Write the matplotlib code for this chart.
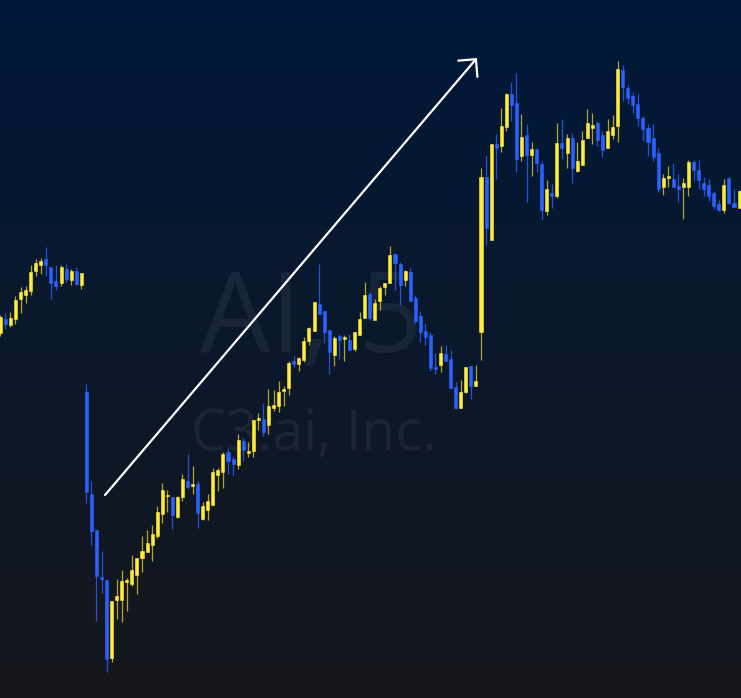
import numpy as np
import matplotlib
matplotlib.use("Agg")
import matplotlib.pyplot as plt
from matplotlib.patches import FancyArrowPatch

# AI (C3.ai), 5 minute candles
opens = [23.34, 23.62, 23.50, 23.62, 24.02, 24.10, 24.18, 24.58, 24.70, 24.82,
         24.66, 24.38, 24.34, 24.62, 24.40, 24.58, 24.30, 22.16, 20.12, 19.40,
         18.46, 18.40, 16.84, 18.00, 18.00, 18.36, 18.32, 18.50, 18.84, 18.96,
         19.10, 19.28, 19.72, 20.08, 20.06, 19.66, 20.06, 20.38, 20.28, 20.32,
         19.62, 19.80, 19.90, 20.50, 20.56, 20.96, 20.82, 20.70, 21.18, 20.94,
         20.98, 21.60, 21.62, 21.50, 21.84, 21.88, 22.18, 22.24, 22.78, 22.72,
         22.80, 23.18, 23.38, 23.92, 23.78, 23.40, 22.90, 23.28, 23.22, 23.20,
         23.02, 23.30, 23.64, 24.12, 23.60, 23.98, 24.26, 24.34, 24.92, 24.72,
         24.40, 24.56, 24.04, 23.68, 23.38, 23.30, 22.66, 22.70, 22.92, 22.82,
         22.26, 21.84, 22.16, 22.68, 22.28, 23.36, 26.46, 25.20, 27.12, 27.08,
         27.46, 28.12, 27.94, 26.88, 27.30, 26.90, 27.02, 26.72, 25.78, 26.14,
         26.08, 27.14, 26.94, 27.24, 26.58, 26.70, 27.24, 27.44, 27.54, 27.30,
         27.04, 27.30, 27.48, 28.60, 28.24, 28.08, 27.92, 27.64, 27.44, 27.24,
         26.94, 26.26, 26.44, 26.42, 26.28, 26.26, 26.26, 26.76, 26.60, 26.34,
         26.30, 26.14, 25.92, 25.80, 26.44, 25.94, 25.84]
highs = [23.70, 23.74, 23.76, 24.08, 24.26, 24.28, 24.70, 24.82, 24.84, 25.06,
         24.66, 24.70, 24.70, 24.72, 24.62, 24.66, 24.54, 22.32, 20.38, 19.40,
         18.98, 18.40, 17.98, 18.42, 18.60, 18.44, 18.90, 18.84, 19.28, 19.40,
         19.50, 19.88, 20.34, 20.20, 20.06, 20.08, 20.52, 20.92, 20.68, 20.38,
         19.96, 20.12, 20.64, 20.64, 20.96, 21.04, 20.88, 21.32, 21.24, 21.16,
         21.60, 21.74, 21.94, 22.22, 22.20, 22.38, 22.28, 22.78, 22.88, 22.86,
         23.26, 23.46, 23.96, 24.72, 23.78, 23.40, 23.28, 23.32, 23.30, 23.32,
         23.36, 23.76, 24.36, 24.16, 24.02, 24.28, 24.34, 25.08, 24.92, 24.76,
         24.60, 24.64, 24.10, 23.78, 23.54, 23.36, 22.94, 23.08, 23.10, 23.00,
         22.36, 22.40, 22.66, 22.68, 22.70, 26.64, 26.90, 27.12, 27.32, 27.84,
         28.14, 28.36, 28.54, 27.72, 27.52, 27.16, 27.02, 26.78, 26.40, 26.32,
         27.54, 27.62, 27.32, 27.34, 27.16, 27.38, 27.82, 27.74, 27.58, 27.38,
         27.62, 27.70, 28.78, 28.70, 28.30, 28.16, 28.12, 27.68, 27.52, 27.52,
         27.04, 26.52, 26.68, 26.74, 26.52, 26.44, 26.80, 26.80, 26.80, 26.46,
         26.42, 26.18, 26.00, 26.42, 26.46, 26.22, 26.20]
lows = [23.28, 23.42, 23.46, 23.52, 23.74, 23.94, 24.10, 24.48, 24.52, 24.48,
        24.02, 24.20, 24.28, 24.36, 24.30, 24.30, 24.22, 19.94, 19.10, 17.58,
        18.14, 16.56, 16.76, 17.62, 17.56, 17.78, 18.28, 18.12, 18.56, 18.96,
        18.78, 19.24, 19.54, 19.76, 19.42, 19.64, 19.98, 20.22, 20.12, 19.44,
        19.60, 19.60, 19.90, 20.18, 20.24, 20.52, 20.50, 20.62, 20.78, 20.86,
        20.86, 21.40, 21.28, 21.32, 21.78, 21.76, 21.88, 22.10, 22.66, 22.58,
        22.76, 23.10, 23.38, 23.72, 23.14, 22.52, 22.68, 22.82, 22.78, 23.00,
        22.98, 23.30, 23.64, 23.60, 23.60, 23.80, 24.10, 24.34, 24.20, 23.90,
        24.28, 23.98, 23.54, 23.16, 23.10, 22.58, 22.52, 22.56, 22.78, 22.24,
        21.82, 21.84, 22.14, 22.02, 22.28, 22.80, 25.10, 25.20, 26.42, 26.96,
        27.38, 27.58, 26.56, 26.78, 25.96, 26.48, 26.56, 25.60, 25.70, 25.84,
        26.04, 26.82, 26.64, 26.34, 26.56, 26.70, 27.24, 27.12, 27.08, 26.86,
        27.04, 27.22, 27.16, 27.98, 27.92, 27.74, 27.48, 27.18, 26.88, 26.78,
        26.16, 26.10, 26.26, 26.26, 25.96, 25.62, 26.08, 26.38, 26.22, 26.08,
        25.98, 25.82, 25.78, 25.74, 25.92, 25.86, 25.84]
closes = [23.66, 23.52, 23.64, 24.00, 24.16, 24.20, 24.56, 24.74, 24.78, 24.70,
          24.34, 24.28, 24.66, 24.42, 24.58, 24.32, 24.54, 20.16, 19.38, 18.48,
          18.42, 16.82, 17.98, 18.08, 18.38, 18.40, 18.60, 18.84, 18.98, 19.14,
          19.32, 19.76, 20.20, 20.10, 19.70, 20.06, 20.42, 20.26, 20.32, 19.74,
          19.88, 19.98, 20.56, 20.60, 20.92, 20.78, 20.72, 21.20, 21.00, 20.98,
          21.60, 21.64, 21.36, 21.88, 21.90, 22.16, 22.22, 22.74, 22.72, 22.84,
          23.18, 23.44, 23.96, 23.72, 23.36, 22.96, 23.24, 23.20, 23.24, 23.00,
          23.36, 23.62, 24.10, 23.64, 23.94, 24.24, 24.34, 24.90, 24.74, 24.30,
          24.58, 23.98, 23.58, 23.36, 23.26, 22.64, 22.62, 22.94, 22.78, 22.24,
          21.84, 22.16, 22.66, 22.28, 22.38, 26.46, 25.44, 27.12, 27.04, 27.48,
          28.12, 27.90, 26.82, 27.26, 26.90, 27.02, 26.74, 25.80, 26.22, 26.08,
          27.14, 27.04, 27.24, 26.64, 26.78, 27.20, 27.54, 27.50, 27.20, 27.00,
          27.38, 27.46, 28.62, 28.26, 28.04, 27.90, 27.64, 27.42, 27.16, 26.86,
          26.22, 26.44, 26.46, 26.26, 26.22, 26.34, 26.76, 26.60, 26.40, 26.22,
          26.08, 25.88, 25.80, 26.30, 25.94, 25.86, 26.18]

arrow_start = (20.7, 20.10)
arrow_end = (94.2, 28.84)

up_color = '#ffeb3b'
down_color = '#2962ff'

fig = plt.figure(figsize=(7.41, 6.98), dpi=100)
ax = fig.add_axes([0, 0, 1, 1])

# background gradient, navy on top to dark grey at the bottom
top = np.array([0x00, 0x19, 0x3a]) / 255
bottom = np.array([0x16, 0x17, 0x1c]) / 255
t = np.linspace(0, 1, 256)[:, None]
grad = top * (1 - t) + bottom * t
ax.imshow(grad[:, None, :], extent=[0, 1, 0, 1], transform=ax.transAxes,
          aspect='auto', zorder=0)

# watermark
ax.text(0.42, 0.496, 'AI, 5', transform=ax.transAxes, ha='center', va='baseline',
        fontsize=80, family='Open Sans', color='white', alpha=0.06, zorder=1)
ax.text(0.423, 0.355, 'C3.ai, Inc.', transform=ax.transAxes, ha='center', va='baseline',
        fontsize=40, family='Open Sans', color='white', alpha=0.06, zorder=1)

o = np.array(opens)
h = np.array(highs)
l = np.array(lows)
c = np.array(closes)
x = np.arange(len(o))
up = c >= o
cols = np.where(up, up_color, down_color)
wick_cols = np.where(up, '#b3a42a', '#2553d8')

ax.vlines(x, l, h, colors=wick_cols, linewidth=0.9, zorder=2)
body_low = np.minimum(o, c)
body_h = np.maximum(np.abs(c - o), 0.03)
ax.bar(x, body_h, bottom=body_low, width=0.6, color=cols, edgecolor=cols,
       linewidth=0.4, zorder=3)

arrow = FancyArrowPatch(arrow_start, arrow_end, arrowstyle='->,head_length=0.9,head_width=0.9',
                        mutation_scale=10, color='white', linewidth=1.6, zorder=4,
                        shrinkA=0, shrinkB=0)
ax.add_patch(arrow)

ax.set_xlim(-0.06, 146.38)
ax.set_ylim(16.04, 30)
ax.axis('off')

fig.savefig('out.png', dpi=100)
